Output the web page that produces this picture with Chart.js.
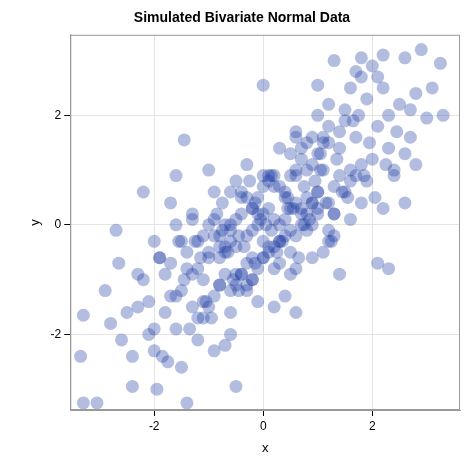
<!DOCTYPE html><html><head><script src="https://cdn.jsdelivr.net/npm/chart.js@4"></script>
<style>html,body{margin:0;background:#fff}#w{width:474px;height:474px}</style></head><body><div id="w"><canvas id="c"></canvas></div>
<script>
const xs=[-3.3,-3.05,-3.35,-2.4,-2.4,-3.3,-2.8,-2.9,-2.65,-2.7,-2.0,-1.95,-1.4,-0.5,-1.6,-1.45,0.0,1.0,1.3,1.8,2.2,2.9,2.6,3.0,3.3,3.25,2.6,2.3,2.1,1.4,
-1.8,-1.6,-1.5,-1.4,-1.3,-1.2,-1.1,-1.0,-0.9,-0.8,-0.7,-0.6,-0.5,-0.4,-0.3,-0.2,-0.1,0.0,0.1,0.2,0.3,0.4,0.5,0.6,0.7,0.8,0.9,1.0,1.1,1.2,1.3,1.4,1.5,1.6,1.7,1.8,1.9,2.0,2.1,2.2,2.3,2.4,2.5,2.7,2.8,
-2.2,-2.1,-1.9,-1.7,-1.55,-1.35,-1.15,-0.95,-0.75,-0.55,-0.35,-0.15,0.05,0.25,0.45,0.65,0.85,1.05,1.25,1.45,1.65,1.85,2.05,2.25,2.45,
-1.7,-1.45,-1.25,-1.05,-0.85,-0.65,-0.45,-0.25,-0.05,0.15,0.35,0.55,0.75,0.95,1.15,1.35,1.55,1.75,1.95,
-1.2,-1.0,-0.8,-0.6,-0.4,-0.2,0.0,0.2,0.4,0.6,0.8,1.0,1.2,1.4,
-1.3,-1.1,-0.9,-0.7,-0.5,-0.3,-0.1,0.1,0.3,0.5,0.7,0.9,1.1,1.3,1.5,
-0.9,-0.6,-0.3,0.0,0.3,0.6,0.9,-0.75,-0.45,-0.15,0.15,0.45,0.75,1.05,
-2.5,-2.3,-2.0,-1.85,-2.6,-2.1,-1.75,1.7,2.0,2.3,2.6,2.8,3.1,1.2,0.6,-0.3,-1.0,-0.1,0.4,0.9,1.6,-1.6,-0.6,0.2,
-1.9,-1.2,-0.7,0.5,1.1,1.6,2.2,-0.8,-0.2,0.1,0.7,-1.1,-0.4,0.3,0.8,1.3,-0.5,0.0,0.5,-1.5,1.0,
-1.6,-1.4,-1.2,-1.0,-0.8,-0.6,-0.4,-0.2,0.0,0.2,0.4,0.6,0.8,1.0,1.2,1.4,1.6,1.8,
-1.5,-1.3,-1.1,-0.9,-0.7,-0.5,-0.3,-0.1,0.1,0.3,0.5,0.7,0.9,1.1,1.3,1.5,1.7,
-1.0,-0.8,-0.6,-0.4,-0.2,0.0,0.2,0.4,0.6,0.8,1.0,1.2,
-0.7,-0.5,-0.3,-0.1,0.1,0.3,0.5,0.7,0.9,-0.6,-0.2,0.2,0.6,1.0,
-2.3,-2.0,-1.8,1.9,2.1,2.4,-1.7,-2.2,2.7,1.8,-0.9,0.6,-1.3,1.2];
const ys=[-3.25,-3.25,-2.4,-2.4,-2.95,-1.65,-1.8,-1.2,-0.7,-0.1,-0.3,-3.0,-3.25,-2.95,0.9,1.55,2.55,2.55,3.0,3.05,3.1,3.2,3.05,1.95,2.0,2.95,0.4,-0.8,-0.7,-0.9,
-1.6,-1.9,-1.2,-0.8,-1.5,-2.1,-1.0,-0.5,-1.3,-0.2,-0.9,-1.6,-0.4,0.2,-0.7,-0.1,0.5,-0.3,0.3,-0.8,0.7,0.1,0.9,-0.2,1.2,0.5,1.6,0.2,1.0,1.8,0.7,1.4,2.1,1.0,1.6,0.4,2.3,1.2,1.8,2.5,1.4,0.9,2.2,1.6,2.4,
-1.0,-2.0,-0.6,-1.3,-0.3,-1.9,-0.6,-1.7,-0.1,-1.0,-0.4,0.4,0.0,-0.5,0.5,-0.6,0.1,1.3,-0.3,0.6,1.9,0.9,0.5,1.1,1.7,
-0.7,-1.0,-0.3,-1.4,0.2,-0.5,-1.2,0.8,0.1,0.9,-0.3,0.3,0.0,0.8,0.4,1.2,0.5,2.0,1.5,
-0.8,0.0,-0.6,-0.1,-0.9,0.3,-0.6,0.1,0.5,0.4,1.0,0.6,-0.1,0.9,
0.2,-1.7,0.6,-0.5,0.8,-1.2,0.0,-0.4,1.4,-0.9,0.3,1.1,1.5,-0.2,0.6,
-0.2,0.6,-1.1,0.2,-0.3,1.6,0.4,0.4,-0.2,-0.7,-0.1,0.3,0.7,1.0,
-1.6,-0.9,-1.9,-2.4,-2.1,-1.4,-2.5,2.8,2.9,2.0,1.3,1.1,2.5,2.2,1.7,1.1,1.0,-1.4,-1.3,-0.6,0.1,0.0,-2.0,-1.5,
-0.6,-0.3,-2.2,1.3,-0.5,2.5,0.3,-0.4,-1.0,0.8,0.2,-0.2,0.6,-0.7,1.5,0.2,-0.9,0.9,-0.1,-2.6,2.0,
-1.3,-0.5,-1.7,-0.6,-1.1,0.0,-0.9,0.3,-0.6,0.7,-0.2,1.0,0.2,1.3,0.4,1.7,0.8,1.1,
-0.3,-0.9,-1.4,0.1,-0.4,-1.1,0.5,-0.8,0.9,0.0,-0.5,1.4,0.0,1.6,0.2,1.9,0.9,
-1.5,-1.1,-0.3,0.5,-0.6,0.7,-0.4,0.6,0.9,-0.1,0.6,1.5,
0.0,0.1,-0.2,0.2,-0.5,-0.3,0.3,0.0,0.4,-1.2,-1.0,0.9,-0.8,0.3,
-1.5,-2.3,-0.9,0.8,2.7,1.0,0.4,0.6,2.1,2.7,-2.3,-1.6,0.1,-0.3];
const pts=xs.map((x,i)=>({x:x,y:ys[i]}));
const xTicks=[-2,0,2], yTicks=[-2,0,2];
const frame={id:'frame',afterDraw(c){const a=c.chartArea,g=c.ctx;g.save();g.strokeStyle='#999';g.lineWidth=1;g.strokeRect(a.left+0.5,a.top+0.5,a.right-a.left-1,a.bottom-a.top-1);g.restore();}};
new Chart(document.getElementById('c'),{type:'scatter',data:{datasets:[{data:pts,pointRadius:6.5,pointHoverRadius:6.5,backgroundColor:'rgba(25,55,160,0.33)',borderColor:'rgba(25,55,160,0.33)',borderWidth:0}]},
options:{responsive:true,maintainAspectRatio:false,animation:false,layout:{padding:{left:24,right:14,top:4,bottom:14}},
plugins:{legend:{display:false},tooltip:{enabled:false},title:{display:true,text:'Simulated Bivariate Normal Data',color:'#000',font:{family:'Arial, Liberation Sans',size:14,weight:'bold'},padding:{top:6,bottom:8}}},
scales:{x:{min:-3.54,max:3.61,afterBuildTicks:a=>{a.ticks=xTicks.map(v=>({value:v}))},grid:{color:'#e4e4e4',tickLength:6,tickColor:'#000'},border:{color:'#999'},ticks:{color:'#000',font:{size:12,family:'Arial, Liberation Sans'}},title:{display:true,text:'x',color:'#000',font:{size:13,family:'Arial, Liberation Sans'}}},
y:{min:-3.38,max:3.47,afterBuildTicks:a=>{a.ticks=yTicks.map(v=>({value:v}))},grid:{color:'#e4e4e4',tickLength:6,tickColor:'#000'},border:{color:'#999'},ticks:{color:'#000',font:{size:12,family:'Arial, Liberation Sans'}},title:{display:true,text:'y',color:'#000',font:{size:13,family:'Arial, Liberation Sans'}}}}},plugins:[frame]});
</script></body></html>
